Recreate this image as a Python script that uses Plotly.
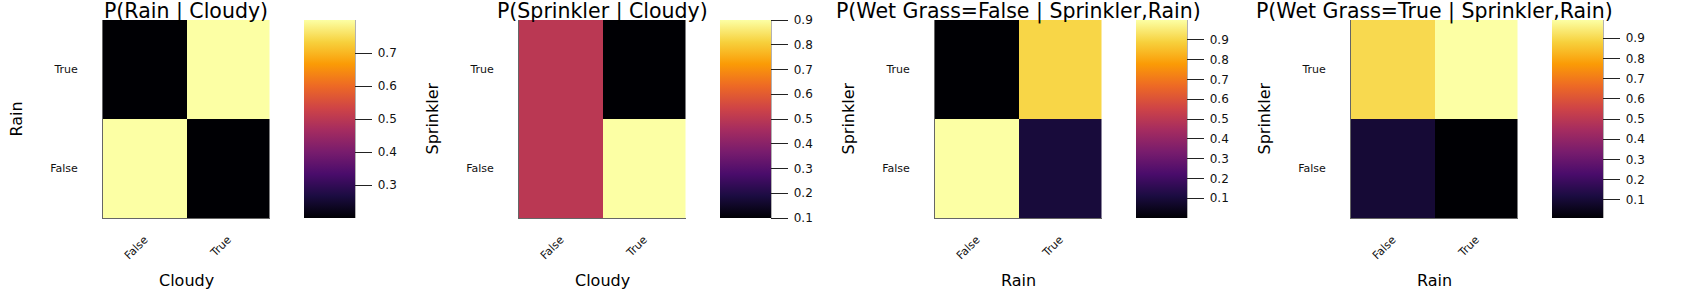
import plotly.graph_objects as go

W, H = 1700, 304

states = ["False", "True"]

titles = ["P(Rain | Cloudy)", "P(Sprinkler | Cloudy)",
          "P(Wet Grass=False | Sprinkler,Rain)", "P(Wet Grass=True | Sprinkler,Rain)"]
x_labels = ["Cloudy", "Cloudy", "Rain", "Rain"]
y_labels = ["Rain", "Sprinkler", "Sprinkler", "Sprinkler"]

# rows = y state (False, True), columns = x state (False, True)
p_rain = [[0.8, 0.2],
          [0.2, 0.8]]
p_sprinkler = [[0.5, 0.9],
               [0.5, 0.1]]
p_wet_false = [[1.0, 0.1],
               [0.0, 0.9]]
p_wet_true = [[0.1, 0.01],
              [0.9, 0.99]]

cb_ticks_rain = [0.3, 0.4, 0.5, 0.6, 0.7]
cb_ticks_sprinkler = [0.1, 0.2, 0.3, 0.4, 0.5, 0.6, 0.7, 0.8, 0.9]
cb_ticks_wet = [0.1, 0.2, 0.3, 0.4, 0.5, 0.6, 0.7, 0.8, 0.9]

matrices = [p_rain, p_sprinkler, p_wet_false, p_wet_true]
cb_ticks = [cb_ticks_rain, cb_ticks_sprinkler, cb_ticks_wet, cb_ticks_wet]

# layout in pixels
hm_left = [103, 519, 935, 1351]
hm_w = 166.5
cb_left = [304, 720, 1136, 1552]
cb_w = 51
top, bottom = 20, 218

FONT = "DejaVu Sans"

def px(x):
    return x / W

def py(y):
    return 1 - y / H

fig = go.Figure()
annotations = []
shapes = []

for i in range(4):
    xa = "x" if i == 0 else f"x{i+1}"
    ya = "y" if i == 0 else f"y{i+1}"
    fig.add_trace(go.Heatmap(
        x=states, y=states, z=matrices[i],
        xaxis=xa, yaxis=ya,
        colorscale="Inferno",
        colorbar=dict(
            x=px(cb_left[i]), xanchor="left", xpad=0,
            y=py(top), yanchor="top", ypad=0,
            len=bottom - top, lenmode="pixels",
            thickness=cb_w, thicknessmode="pixels",
            outlinewidth=0,
            tickvals=cb_ticks[i],
            ticktext=["\u00a0" + f"{v:.1f}" for v in cb_ticks[i]],
            ticks="outside", ticklen=17, tickwidth=1.3, tickcolor="#222",
            tickfont=dict(family=FONT, size=12, color="#111"),
        ),
    ))
    xkey = "xaxis" if i == 0 else f"xaxis{i+1}"
    ykey = "yaxis" if i == 0 else f"yaxis{i+1}"
    fig.layout[xkey] = dict(
        domain=[px(hm_left[i]), px(hm_left[i] + hm_w)],
        anchor=ya, type="category", range=[-0.5, 1.5],
        showline=True, linecolor="#666", linewidth=1, mirror=False,
        showgrid=False, zeroline=False, ticks="",
        tickangle=-45, ticklabelstandoff=10,
        tickfont=dict(family=FONT, size=11, color="#111"),
        fixedrange=True,
    )
    fig.layout[ykey] = dict(
        domain=[py(bottom), py(top)],
        anchor=xa, type="category", range=[-0.5, 1.5],
        showline=True, linecolor="#666", linewidth=1, mirror=False,
        showgrid=False, zeroline=False, ticks="",
        ticklabelstandoff=22,
        tickfont=dict(family=FONT, size=11, color="#111"),
        fixedrange=True,
    )
    cx = hm_left[i] + hm_w / 2
    annotations.append(dict(
        text=titles[i], x=px(cx), y=py(11), xref="paper", yref="paper",
        xanchor="center", yanchor="middle", showarrow=False,
        font=dict(family=FONT, size=20.5, color="#000"),
    ))
    annotations.append(dict(
        text=x_labels[i], x=px(cx), y=py(280), xref="paper", yref="paper",
        xanchor="center", yanchor="middle", showarrow=False,
        font=dict(family=FONT, size=16, color="#000"),
    ))
    annotations.append(dict(
        text=y_labels[i], x=px(hm_left[i] - 87.5), y=py((top + bottom) / 2),
        xref="paper", yref="paper", textangle=-90,
        xanchor="center", yanchor="middle", showarrow=False,
        font=dict(family=FONT, size=16, color="#000"),
    ))
    cbr = cb_left[i] + cb_w
    shapes.append(dict(
        type="line", xref="paper", yref="paper",
        x0=px(cbr), x1=px(cbr), y0=py(top), y1=py(bottom),
        line=dict(color="#666", width=1),
    ))

fig.update_layout(
    width=W, height=H,
    margin=dict(l=0, r=0, t=0, b=0),
    paper_bgcolor="white", plot_bgcolor="white",
    annotations=annotations, shapes=shapes,
    font=dict(family=FONT),
    showlegend=False,
)

fig.write_html("out.html")
